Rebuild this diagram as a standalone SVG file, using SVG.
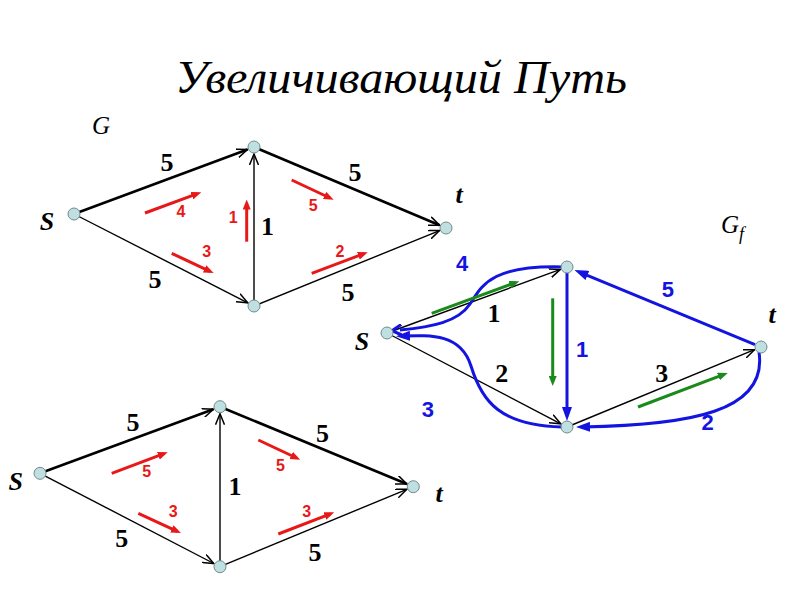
<svg xmlns="http://www.w3.org/2000/svg" width="800" height="600" viewBox="0 0 800 600">
<style>
.bg{fill:#fff}
.e{stroke:#000;fill:none;marker-end:url(#bv)}
.thin{stroke-width:1.4}
.thick{stroke-width:2.6}
.r{stroke:#e81818;stroke-width:3;fill:none;marker-end:url(#rh)}
.g{stroke:#1a8a1a;stroke-width:3;fill:none;marker-end:url(#gh)}
.b{stroke:#1414e0;stroke-width:3;fill:none;marker-end:url(#bh)}
.bo{stroke:#1414e0;stroke-width:3;fill:none;marker-end:url(#bvo)}
.n{fill:#bfdfe0;stroke:#6f8c8c;stroke-width:1}
.num{font-family:"Liberation Serif",serif;font-weight:bold;font-size:26px;fill:#000;text-anchor:middle}
.rl{font-family:"Liberation Sans",Arial,sans-serif;font-weight:bold;font-size:16px;fill:#e81818;text-anchor:middle}
.bl{font-family:"Liberation Sans",Arial,sans-serif;font-weight:bold;font-size:22px;fill:#1414e0;text-anchor:middle}
.it{font-family:"Liberation Serif",serif;font-style:italic;font-weight:bold;font-size:26px;fill:#000;text-anchor:middle}
.gi{font-family:"Liberation Serif",serif;font-style:italic;font-size:25px;fill:#000}
.title{font-family:"Liberation Serif",serif;font-style:italic;font-size:47px;fill:#000}
</style>
<defs>
<marker id="bv" markerUnits="userSpaceOnUse" viewBox="0 0 12 10" refX="11" refY="5" markerWidth="12" markerHeight="10" orient="auto">
<path d="M0,0.5 L11,5 L0,9.5" fill="none" stroke="#000" stroke-width="1.5"/>
</marker>
<marker id="bvo" markerUnits="userSpaceOnUse" viewBox="0 0 12 12" refX="2" refY="6" markerWidth="12" markerHeight="12" orient="auto">
<path d="M0,0.5 L10,6 L0,11.5" fill="none" stroke="#1414e0" stroke-width="3"/>
</marker>
<marker id="rh" markerUnits="userSpaceOnUse" viewBox="0 0 10 8" refX="6" refY="4" markerWidth="10" markerHeight="8" orient="auto">
<path d="M0,0 L10,4 L0,8 Z" fill="#e81818"/>
</marker>
<marker id="gh" markerUnits="userSpaceOnUse" viewBox="0 0 10 8" refX="6" refY="4" markerWidth="10" markerHeight="8" orient="auto">
<path d="M0,0 L10,4 L0,8 Z" fill="#1a8a1a"/>
</marker>
<marker id="bh" markerUnits="userSpaceOnUse" viewBox="0 0 14 10" refX="8" refY="5" markerWidth="14" markerHeight="10" orient="auto">
<path d="M0,0 L14,5 L0,10 Z" fill="#1414e0"/>
</marker>
</defs>
<rect class="bg" x="0" y="0" width="800" height="600"/>

<text class="title" x="175" y="93" textLength="452" lengthAdjust="spacingAndGlyphs">Увеличивающий Путь</text>

<!-- Graph G -->
<g id="G-connectors">
<line class="e thick" x1="74" y1="214" x2="247.5" y2="149.5"/>
<line class="e thick" x1="254" y1="147" x2="439.6" y2="225.3"/>
<line class="e thin" x1="74" y1="214" x2="247.8" y2="302.8"/>
<line class="e thin" x1="254" y1="306" x2="439.5" y2="230.6"/>
<line class="e thin" x1="254" y1="306" x2="254" y2="154"/>
<line class="r" x1="145" y1="213" x2="197.5" y2="193.6"/>
<line class="r" x1="171.7" y1="253.3" x2="210" y2="271.4"/>
<line class="r" x1="246.7" y1="241.7" x2="246.7" y2="203.5"/>
<line class="r" x1="291.7" y1="180" x2="330" y2="198"/>
<line class="r" x1="311.7" y1="273.3" x2="364" y2="253.7"/>
</g>
<g id="G-labels">
<text class="gi" x="92" y="134">G</text>
<text class="num" x="167" y="171">5</text>
<text class="num" x="355" y="181">5</text>
<text class="num" x="155" y="288">5</text>
<text class="num" x="348" y="301">5</text>
<text class="num" x="267.5" y="235">1</text>
<text class="rl" x="181" y="217">4</text>
<text class="rl" x="206.7" y="256.7">3</text>
<text class="rl" x="233.3" y="223">1</text>
<text class="rl" x="313.3" y="210.7">5</text>
<text class="rl" x="340" y="256.7">2</text>
</g>
<g id="G-s"><circle class="n" cx="74" cy="214" r="6"/><text class="it" x="47" y="230">S</text></g>
<g id="G-a"><circle class="n" cx="254" cy="147" r="6"/></g>
<g id="G-b"><circle class="n" cx="254" cy="306" r="6"/></g>
<g id="G-t"><circle class="n" cx="446" cy="228" r="6"/><text class="it" x="459" y="203">t</text></g>

<!-- Graph Gf -->
<g id="Gf-connectors">
<line class="e thin" x1="387" y1="333" x2="560.4" y2="269.4"/>
<line class="e thin" x1="387" y1="333" x2="560.8" y2="423.8"/>
<line class="e thin" x1="567" y1="427" x2="754.5" y2="349.7"/>
<line class="b" x1="567" y1="273" x2="567" y2="415"/>
<line class="b" x1="755" y1="344.7" x2="580" y2="272.4"/>
<path class="bo" d="M563,267 C490,265 482,286 470,304 C458,322 432,327 400,330"/>
<path class="b" d="M562,427 C500,425 482,402 471,366 C461,334 432,335 402,336"/>
<path class="b" d="M759,352 C768,412 690,425 582,427"/>
<line class="g" x1="431.7" y1="313.3" x2="515.5" y2="282.7"/>
<line class="g" x1="552.7" y1="298.3" x2="552.7" y2="382"/>
<line class="g" x1="638" y1="407" x2="724" y2="374.4"/>
</g>
<g id="Gf-labels">
<text class="gi" x="721" y="233">G<tspan font-size="18" dy="7">f</tspan></text>
<text class="bl" x="462" y="271">4</text>
<text class="bl" x="667.8" y="297.3">5</text>
<text class="bl" x="582" y="356.7">1</text>
<text class="bl" x="427.8" y="416.7">3</text>
<text class="bl" x="707.5" y="430">2</text>
<text class="num" x="494" y="321.5">1</text>
<text class="num" x="501.7" y="382">2</text>
<text class="num" x="661.7" y="382">3</text>
</g>
<g id="Gf-s"><circle class="n" cx="387" cy="333" r="6"/><text class="it" x="362" y="350">S</text></g>
<g id="Gf-a"><circle class="n" cx="567" cy="267" r="6"/></g>
<g id="Gf-b"><circle class="n" cx="567" cy="427" r="6"/></g>
<g id="Gf-t"><circle class="n" cx="761" cy="347" r="6"/><text class="it" x="772" y="323.3">t</text></g>

<!-- Bottom graph -->
<g id="H-connectors">
<line class="e thick" x1="40" y1="473.3" x2="213.4" y2="409.2"/>
<line class="e thick" x1="220" y1="406.7" x2="406.9" y2="484"/>
<line class="e thin" x1="40" y1="473.3" x2="213.8" y2="563.5"/>
<line class="e thin" x1="220" y1="566.7" x2="406.8" y2="489.3"/>
<line class="e thin" x1="220" y1="566.7" x2="220" y2="413.7"/>
<line class="r" x1="111.7" y1="473.3" x2="164" y2="453.7"/>
<line class="r" x1="138.3" y1="513.3" x2="177.3" y2="531.4"/>
<line class="r" x1="258.3" y1="440" x2="296.6" y2="458"/>
<line class="r" x1="278.3" y1="534" x2="330.5" y2="513.8"/>
</g>
<g id="H-labels">
<text class="num" x="133" y="431">5</text>
<text class="num" x="322.5" y="442">5</text>
<text class="num" x="121.7" y="547">5</text>
<text class="num" x="315" y="561">5</text>
<text class="num" x="235" y="495">1</text>
<text class="rl" x="146.7" y="477">5</text>
<text class="rl" x="173.3" y="516.7">3</text>
<text class="rl" x="280.5" y="470.7">5</text>
<text class="rl" x="306.7" y="516.7">3</text>
</g>
<g id="H-s"><circle class="n" cx="40" cy="473.3" r="6"/><text class="it" x="15.8" y="490">S</text></g>
<g id="H-a"><circle class="n" cx="220" cy="406.7" r="6"/></g>
<g id="H-b"><circle class="n" cx="220" cy="566.7" r="6"/></g>
<g id="H-t"><circle class="n" cx="413.3" cy="486.7" r="6"/><text class="it" x="439" y="501.7">t</text></g>
</svg>
